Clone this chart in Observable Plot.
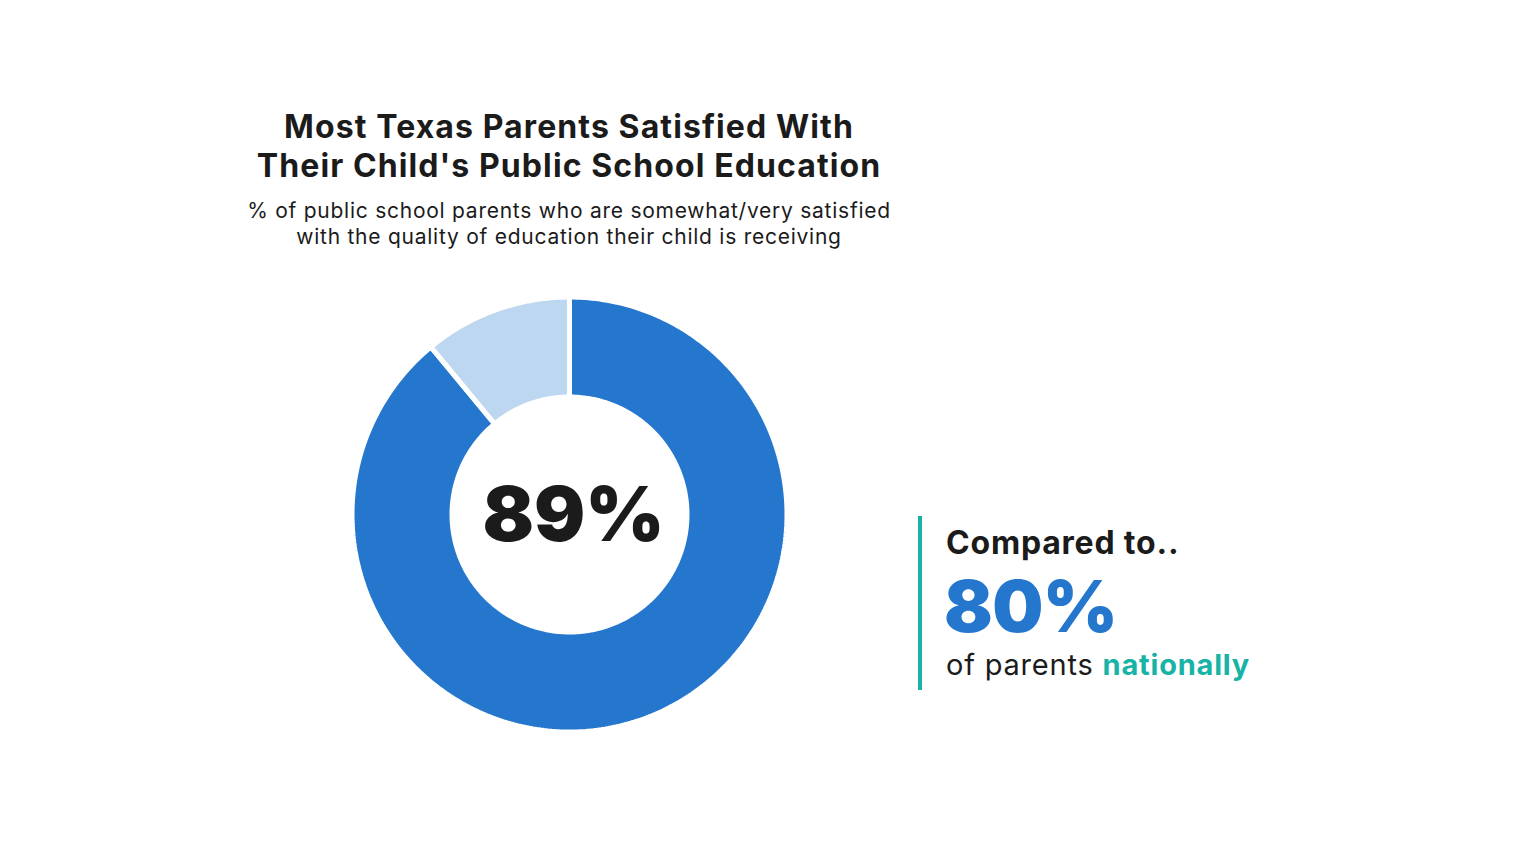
<!DOCTYPE html>
<html>
<head>
<meta charset="utf-8">
<script src="https://cdn.jsdelivr.net/npm/d3@7"></script>
<script src="https://cdn.jsdelivr.net/npm/@observablehq/plot@0.6"></script>
<style>
  html, body { margin: 0; padding: 0; background: #fff; }
  #page { position: relative; width: 1536px; height: 864px; overflow: hidden; font-family: Inter, "Open Sans", sans-serif; color: #1b1b1b; }
  #title { position: absolute; left: 119px; width: 900px; top: 107px; text-align: center; font-weight: 700; font-size: 32px; line-height: 39px; letter-spacing: 1.1px; }
  #subtitle { position: absolute; left: 119px; width: 900px; top: 198px; text-align: center; font-weight: 400; font-size: 21px; line-height: 26px; letter-spacing: 0.75px; }
  #donut { position: absolute; left: 349px; top: 294px; }
  #rule { position: absolute; left: 918px; top: 516px; width: 4px; height: 174px; background: #17B3A6; }
  .cmp { position: absolute; left: 946px; line-height: 1; white-space: nowrap; }
  #lead { top: 527px; font-weight: 700; font-size: 32px; letter-spacing: 0.8px; }
  #value { top: 570px; left: 944px; font-weight: 900; font-size: 72px; color: #2477CD; letter-spacing: -0.6px; }
  #tail { top: 650px; font-weight: 400; font-size: 29px; letter-spacing: 0.8px; }
  #tail b { color: #17B3A6; font-weight: 700; }
</style>
</head>
<body>
<div id="page">
  <div id="title"></div>
  <div id="subtitle"></div>
  <div id="donut"></div>
  <div id="rule"></div>
  <div class="cmp" id="lead"></div>
  <div class="cmp" id="value"></div>
  <div class="cmp" id="tail"></div>
</div>
<script>
// Share of Texas public school parents by satisfaction
const segments = ["Satisfied", "Not satisfied"];
const shares = [89, 11];
const segmentColors = ["#2477CD", "#BED7F0"];

// National comparison
const nationalShare = 80;

const titleLines = ["Most Texas Parents Satisfied With", "Their Child's Public School Education"];
const subtitleLines = [
  "% of public school parents who are somewhat/very satisfied",
  "with the quality of education their child is receiving"
];

document.getElementById("title").innerHTML = titleLines.join("<br>");
document.getElementById("subtitle").innerHTML = subtitleLines.join("<br>");
document.getElementById("lead").textContent = "Compared to..";
document.getElementById("value").textContent = `${nationalShare}%`;
document.getElementById("tail").innerHTML = `of parents <b>nationally</b>`;

// Ring geometry in unit coordinates (outer radius = 1)
const size = 440;
const outerPx = 217.5;
const innerR = 117.5 / outerPx;
const half = (size / 2) / outerPx;

// Build each ring segment as a closed outline: outer arc clockwise, inner arc back
const total = d3.sum(shares);
const ring = [];
let start = 0;
segments.forEach((segment, i) => {
  const a0 = (start / total) * 2 * Math.PI;
  const a1 = ((start + shares[i]) / total) * 2 * Math.PI;
  const steps = Math.max(2, Math.ceil((a1 - a0) / (Math.PI / 180)));
  const angles = d3.range(steps + 1).map(k => a0 + (a1 - a0) * k / steps);
  for (const a of angles) ring.push({segment, x: Math.sin(a), y: Math.cos(a)});
  for (const a of angles.slice().reverse()) ring.push({segment, x: innerR * Math.sin(a), y: innerR * Math.cos(a)});
  ring.push({segment, x: Math.sin(a0), y: Math.cos(a0)});
  start += shares[i];
});

const chart = Plot.plot({
  width: size,
  height: size,
  margin: 0,
  x: {domain: [-half, half], axis: null},
  y: {domain: [-half, half], axis: null},
  color: {domain: segments, range: segmentColors},
  marks: [
    Plot.line(ring, {x: "x", y: "y", z: "segment", fill: "segment", stroke: "white", strokeWidth: 5, strokeLinejoin: "miter"}),
    Plot.text([shares[0]], {
      x: () => 0, y: () => 0, text: d => `${d}%`,
      fontSize: 76, fontWeight: 900, fill: "#1b1b1b",
      fontFamily: "Inter, sans-serif", dx: 4, dy: 2
    })
  ]
});
document.getElementById("donut").appendChild(chart);
</script>
</body>
</html>
